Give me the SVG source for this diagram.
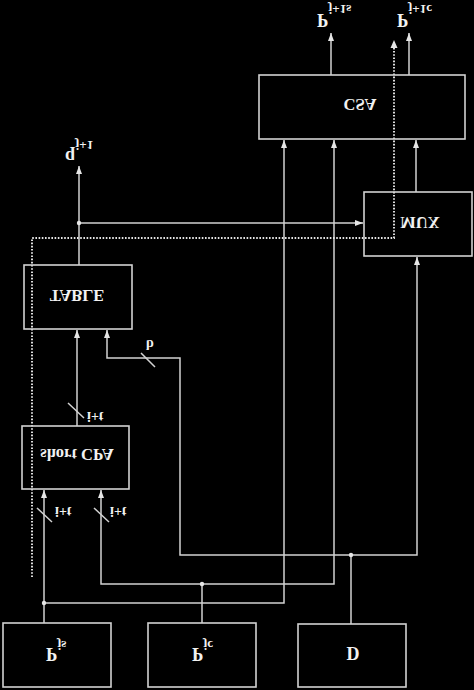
<svg xmlns="http://www.w3.org/2000/svg" width="474" height="690" viewBox="0 0 474 690">
<style>
.box{fill:none;stroke:#d2d2d2;stroke-width:1.6}
.ln{fill:none;stroke:#d2d2d2;stroke-width:1.5}
.dot{fill:#e6e6e6}
.dotted{fill:none;stroke:#e6e6e6;stroke-width:1.9;stroke-dasharray:1.6 1.6}
text{font-family:"Liberation Serif","Times New Roman",serif;font-weight:bold;fill:#f2f2f2}
.big{font-size:16.5px}
.p{font-size:18px}
.sm{font-size:14px}
</style>
<defs>
<marker id="ah" viewBox="0 0 8 6" refX="8" refY="3" markerWidth="8" markerHeight="6" markerUnits="userSpaceOnUse" orient="auto">
<path d="M0,0 L8,3 L0,6 z" fill="#e6e6e6"/>
</marker>
</defs>
<rect width="474" height="690" fill="#000"/>

<g id="connectors">
<path class="ln" d="M44,623 V603"/>
<path class="ln" d="M44,603 V490" marker-end="url(#ah)"/>
<path class="ln" d="M44,603 H284 V140" marker-end="url(#ah)"/>
<path class="ln" d="M202,623 V584"/>
<path class="ln" d="M202,584 H101 V490" marker-end="url(#ah)"/>
<path class="ln" d="M202,584 H334 V140" marker-end="url(#ah)"/>
<path class="ln" d="M351,624 V555"/>
<path class="ln" d="M351,555 H180 V358 H107 V330" marker-end="url(#ah)"/>
<path class="ln" d="M351,555 H417 V257" marker-end="url(#ah)"/>
<path class="ln" d="M77,426 V330" marker-end="url(#ah)"/>
<path class="ln" d="M79,265 V223"/>
<path class="ln" d="M79,223 V166" marker-end="url(#ah)"/>
<path class="ln" d="M79,223 H363" marker-end="url(#ah)"/>
<path class="ln" d="M416,192 V140" marker-end="url(#ah)"/>
<path class="ln" d="M331,75 V33" marker-end="url(#ah)"/>
<path class="ln" d="M409,75 V33" marker-end="url(#ah)"/>
<path class="dotted" d="M32,577 V238 H394 V48"/>
<path d="M390.5,48 L394,40 L397.5,48 z" fill="#e6e6e6"/>
<circle class="dot" cx="44" cy="603" r="2.2"/>
<circle class="dot" cx="202" cy="584" r="2.2"/>
<circle class="dot" cx="351" cy="555" r="2.2"/>
<circle class="dot" cx="79" cy="223" r="2.2"/>
<path class="ln" d="M37,508 L52,522 M94,508 L109,522 M68,403 L84,418 M141,353 L155,367"/>
<text class="sm" transform="translate(55,507) scale(1,-1)">i+t</text>
<text class="sm" transform="translate(110,507) scale(1,-1)">i+t</text>
<text class="sm" transform="translate(87,412) scale(1,-1)">i+t</text>
<text class="sm" transform="translate(146,340) scale(1,-1)">b</text>
<text class="p" transform="translate(65,151) scale(1,-1)">q<tspan font-size="13" dy="10">j+1</tspan></text>
<text class="p" transform="translate(317,14) scale(1,-1)">P<tspan font-size="13" dy="9">j+1s</tspan></text>
<text class="p" transform="translate(397,14) scale(1,-1)">P<tspan font-size="13" dy="9">j+1c</tspan></text>
</g>

<g id="node-pjs">
<rect class="box" x="3" y="623" width="108" height="64"/>
<text class="p" transform="translate(46,648) scale(1,-1)">P<tspan font-size="13" dy="7">js</tspan></text>
</g>
<g id="node-pjc">
<rect class="box" x="148" y="623" width="108" height="64"/>
<text class="p" transform="translate(192,648) scale(1,-1)">P<tspan font-size="13" dy="7">jc</tspan></text>
</g>
<g id="node-d">
<rect class="box" x="298" y="624" width="108" height="63"/>
<text class="p" text-anchor="middle" transform="translate(353,647) scale(1,-1)">D</text>
</g>
<g id="node-cpa">
<rect class="box" x="22" y="426" width="107" height="63"/>
<text class="big" text-anchor="middle" transform="translate(77,449) scale(1,-1)">short CPA</text>
</g>
<g id="node-table">
<rect class="box" x="24" y="265" width="108" height="64"/>
<text class="big" text-anchor="middle" transform="translate(77,290) scale(1,-1)">TABLE</text>
</g>
<g id="node-csa">
<rect class="box" x="259" y="75" width="206" height="64"/>
<text class="big" text-anchor="middle" transform="translate(360,99) scale(1,-1)">CSA</text>
</g>
<g id="node-mux">
<rect class="box" x="364" y="192" width="108" height="64"/>
<text class="big" text-anchor="middle" transform="translate(420,217) scale(1,-1)">MUX</text>
</g>
</svg>
